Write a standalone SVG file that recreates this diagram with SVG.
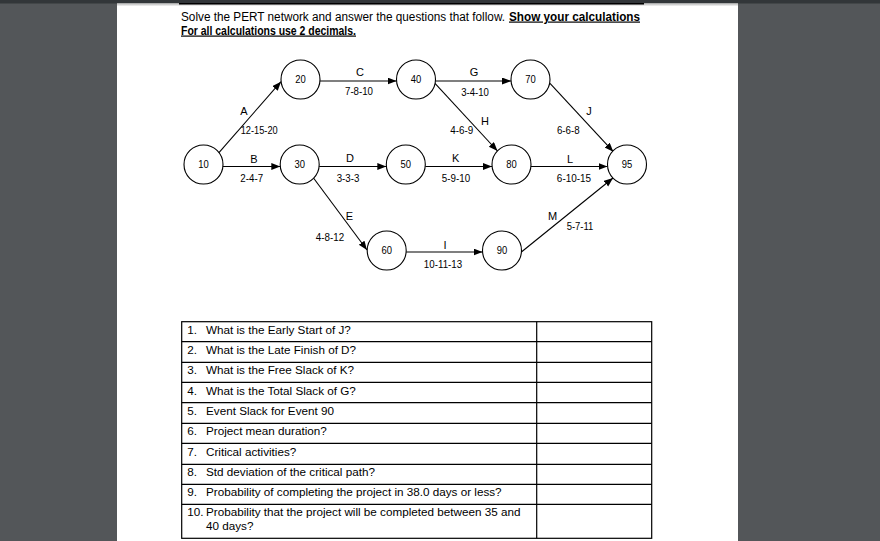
<svg xmlns="http://www.w3.org/2000/svg" width="880" height="541" viewBox="0 0 880 541">
<defs>
<marker id="arr" markerUnits="userSpaceOnUse" markerWidth="10" markerHeight="8" refX="9" refY="3.5" orient="auto">
<path d="M0,0 L9,3.5 L0,7 Z" fill="#000"/>
</marker>
<linearGradient id="shadow" x1="0" y1="0" x2="0" y2="1">
<stop offset="0" stop-color="#b8b8b8"/>
<stop offset="1" stop-color="#ffffff"/>
</linearGradient>
</defs>
<style>
.node circle{fill:#fff;stroke:#000;stroke-width:1.1}
.node text,.lbl,.num{font-family:"Liberation Sans",Arial,sans-serif;font-size:11px;fill:#000;text-anchor:middle}
.edge{stroke:#000;stroke-width:1.1;fill:none;marker-end:url(#arr)}
.q{font-family:"Liberation Sans",Arial,sans-serif;font-size:11.7px;fill:#000}
.tbl{stroke:#000;stroke-width:1.2;fill:none}
.hd{font-family:"Liberation Sans",Arial,sans-serif;font-size:12px;fill:#000}
.hdb{font-family:"Liberation Sans",Arial,sans-serif;font-size:12px;font-weight:bold;fill:#000;text-decoration:underline}
</style>
<rect x="0" y="0" width="880" height="541" fill="#535659"/>
<rect x="0" y="0" width="880" height="3.5" fill="#323639"/>
<rect x="117" y="3.5" width="621" height="537.5" fill="#fff"/>
<rect x="117" y="3.5" width="621" height="3" fill="url(#shadow)"/>
<line x1="179" y1="3.8" x2="644" y2="3.8" stroke="#000" stroke-width="1.4"/>

<g id="header">
<text class="hd" x="181" y="20.5" textLength="324" lengthAdjust="spacingAndGlyphs">Solve the PERT network and answer the questions that follow.</text>
<text class="hdb" x="509" y="20.5" textLength="131" lengthAdjust="spacingAndGlyphs">Show your calculations</text>
<text class="hdb" x="181" y="34.5" textLength="175" lengthAdjust="spacingAndGlyphs">For all calculations use 2 decimals.</text>
</g>

<g id="connectors">
<line class="edge" x1="218.3" y1="153.3" x2="281" y2="81.7"/>
<line class="edge" x1="223" y1="166.5" x2="280.3" y2="166.5"/>
<line class="edge" x1="320" y1="81" x2="396.5" y2="81"/>
<line class="edge" x1="319.2" y1="166.5" x2="386.3" y2="166.5"/>
<line class="edge" x1="313.5" y1="178" x2="367" y2="250"/>
<line class="edge" x1="435.5" y1="81" x2="511" y2="81"/>
<line class="edge" x1="435" y1="83.3" x2="497.5" y2="151"/>
<line class="edge" x1="406.2" y1="252" x2="482.5" y2="252"/>
<line class="edge" x1="550" y1="83.3" x2="613.3" y2="151.7"/>
<line class="edge" x1="425.3" y1="166.5" x2="492" y2="166.5"/>
<line class="edge" x1="531" y1="166.5" x2="607.5" y2="166.5"/>
<line class="edge" x1="521.7" y1="251.7" x2="613" y2="178"/>
</g>

<g id="edge-labels">
<text class="lbl" x="244" y="115">A</text>
<text class="num" x="259.2" y="134" textLength="37" lengthAdjust="spacingAndGlyphs">12-15-20</text>
<text class="lbl" x="254" y="163.3">B</text>
<text class="num" x="251.7" y="182.3" textLength="22.7" lengthAdjust="spacingAndGlyphs">2-4-7</text>
<text class="lbl" x="360" y="76.3">C</text>
<text class="num" x="359" y="95" textLength="28" lengthAdjust="spacingAndGlyphs">7-8-10</text>
<text class="lbl" x="350" y="162.3">D</text>
<text class="num" x="348" y="182.3" textLength="22.7" lengthAdjust="spacingAndGlyphs">3-3-3</text>
<text class="lbl" x="349.3" y="220">E</text>
<text class="num" x="330" y="241.3" textLength="28.3" lengthAdjust="spacingAndGlyphs">4-8-12</text>
<text class="lbl" x="474" y="76.3">G</text>
<text class="num" x="475" y="95.7" textLength="27.7" lengthAdjust="spacingAndGlyphs">3-4-10</text>
<text class="lbl" x="485" y="125">H</text>
<text class="num" x="461.7" y="134" textLength="23" lengthAdjust="spacingAndGlyphs">4-6-9</text>
<text class="lbl" x="445" y="249">I</text>
<text class="num" x="443" y="268" textLength="38.3" lengthAdjust="spacingAndGlyphs">10-11-13</text>
<text class="lbl" x="589" y="115">J</text>
<text class="num" x="568.3" y="134" textLength="22.7" lengthAdjust="spacingAndGlyphs">6-6-8</text>
<text class="lbl" x="455.7" y="162.3">K</text>
<text class="num" x="456" y="182.3" textLength="28.3" lengthAdjust="spacingAndGlyphs">5-9-10</text>
<text class="lbl" x="570" y="163">L</text>
<text class="num" x="574" y="182.3" textLength="34.3" lengthAdjust="spacingAndGlyphs">6-10-15</text>
<text class="lbl" x="552.7" y="220">M</text>
<text class="num" x="580" y="230" textLength="26.7" lengthAdjust="spacingAndGlyphs">5-7-11</text>
</g>

<g id="n10" class="node"><circle cx="203.5" cy="164.5" r="19.5"/><text x="203.5" y="168" textLength="10.5" lengthAdjust="spacingAndGlyphs">10</text></g>
<g id="n20" class="node"><circle cx="300.5" cy="79.5" r="19.5"/><text x="300.5" y="83" textLength="10.5" lengthAdjust="spacingAndGlyphs">20</text></g>
<g id="n30" class="node"><circle cx="299.7" cy="164.5" r="19.5"/><text x="299.7" y="168" textLength="10.5" lengthAdjust="spacingAndGlyphs">30</text></g>
<g id="n40" class="node"><circle cx="416" cy="79.5" r="19.5"/><text x="416" y="83" textLength="10.5" lengthAdjust="spacingAndGlyphs">40</text></g>
<g id="n50" class="node"><circle cx="405.8" cy="164.5" r="19.5"/><text x="405.8" y="168" textLength="10.5" lengthAdjust="spacingAndGlyphs">50</text></g>
<g id="n60" class="node"><circle cx="386.7" cy="250.5" r="19.5"/><text x="386.7" y="254" textLength="10.5" lengthAdjust="spacingAndGlyphs">60</text></g>
<g id="n70" class="node"><circle cx="530.5" cy="79.5" r="19.5"/><text x="530.5" y="83" textLength="10.5" lengthAdjust="spacingAndGlyphs">70</text></g>
<g id="n80" class="node"><circle cx="511.5" cy="164.5" r="19.5"/><text x="511.5" y="168" textLength="10.5" lengthAdjust="spacingAndGlyphs">80</text></g>
<g id="n90" class="node"><circle cx="502" cy="250.5" r="19.5"/><text x="502" y="254" textLength="10.5" lengthAdjust="spacingAndGlyphs">90</text></g>
<g id="n95" class="node"><circle cx="627" cy="164.5" r="19.5"/><text x="627" y="168" textLength="10.5" lengthAdjust="spacingAndGlyphs">95</text></g>

<g id="table">
<rect class="tbl" x="181.7" y="321.7" width="470" height="216.6"/>
<line class="tbl" x1="536.7" y1="321.7" x2="536.7" y2="538.3"/>
<line class="tbl" x1="181.7" y1="341.7" x2="651.7" y2="341.7"/>
<line class="tbl" x1="181.7" y1="362.3" x2="651.7" y2="362.3"/>
<line class="tbl" x1="181.7" y1="382.3" x2="651.7" y2="382.3"/>
<line class="tbl" x1="181.7" y1="402.7" x2="651.7" y2="402.7"/>
<line class="tbl" x1="181.7" y1="423.3" x2="651.7" y2="423.3"/>
<line class="tbl" x1="181.7" y1="443.3" x2="651.7" y2="443.3"/>
<line class="tbl" x1="181.7" y1="464.3" x2="651.7" y2="464.3"/>
<line class="tbl" x1="181.7" y1="484.3" x2="651.7" y2="484.3"/>
<line class="tbl" x1="181.7" y1="504.3" x2="651.7" y2="504.3"/>
<text class="q" x="187.3" y="333.7">1.</text><text class="q" x="206" y="333.7">What is the Early Start of J?</text>
<text class="q" x="187.3" y="354">2.</text><text class="q" x="206" y="354">What is the Late Finish of D?</text>
<text class="q" x="187.3" y="374.3">3.</text><text class="q" x="206" y="374.3">What is the Free Slack of K?</text>
<text class="q" x="187.3" y="394.7">4.</text><text class="q" x="206" y="394.7">What is the Total Slack of G?</text>
<text class="q" x="187.3" y="415">5.</text><text class="q" x="206" y="415">Event Slack for Event 90</text>
<text class="q" x="187.3" y="435.3">6.</text><text class="q" x="206" y="435.3">Project mean duration?</text>
<text class="q" x="187.3" y="455.7">7.</text><text class="q" x="206" y="455.7">Critical activities?</text>
<text class="q" x="187.3" y="476">8.</text><text class="q" x="206" y="476">Std deviation of the critical path?</text>
<text class="q" x="187.3" y="496.3">9.</text><text class="q" x="206" y="496.3">Probability of completing the project in 38.0 days or less?</text>
<text class="q" x="187.3" y="516">10.</text><text class="q" x="206" y="516">Probability that the project will be completed between 35 and</text>
<text class="q" x="206" y="530">40 days?</text>
</g>
</svg>
